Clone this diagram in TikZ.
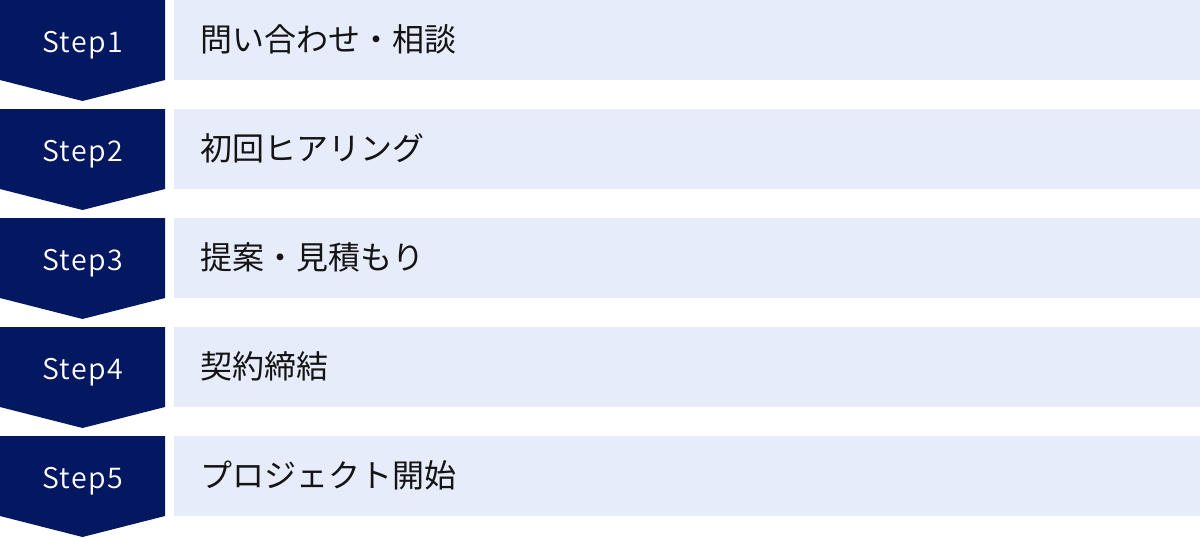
\documentclass[tikz,border=0pt]{standalone}
\usepackage{fontspec}
\setmainfont{Noto Sans CJK JP}
\newfontfamily\stepfont[LetterSpace=5]{Noto Sans CJK JP DemiLight}
\usetikzlibrary{positioning}
\definecolor{stepnavy}{HTML}{041862}
\definecolor{barblue}{HTML}{E6ECF9}
\definecolor{titleink}{HTML}{141414}
\tikzset{
  steplabel/.style={text=white,font=\stepfont\fontsize{28.5}{32}\selectfont,inner sep=0pt,anchor=base},
  bartitle/.style={text=titleink,font=\fontsize{32}{38}\selectfont,inner sep=0pt,anchor=base west},
}
\begin{document}
\begin{tikzpicture}[x=1pt,y=1pt]
    % Parameters
    \def\rowGap{109} % distance between rows
    \def\barHeight{80} % height of a row
    \def\tipDepth{21} % depth of the chevron tip
    \def\chevWidth{165} % width of the chevron

    \useasboundingbox (0,0) rectangle (1200,-538);

    % Rows
    \foreach \i/\txt in {1/問い合わせ・相談,2/初回ヒアリング,3/提案・見積もり,4/契約締結,5/プロジェクト開始}{
        \begin{scope}[yshift={-(\i-1)*\rowGap}]
            \fill[stepnavy] (0,0) -- (\chevWidth,0) -- (\chevWidth,-\barHeight) -- (\chevWidth/2,-\barHeight-\tipDepth) -- (0,-\barHeight) -- cycle;
            \fill[barblue] (174,0) rectangle (1200,-\barHeight);
            \node[steplabel] (step\i) at (82.5,-52) {Step\i};
            \node[bartitle] (title\i) at (200,-51) {\txt};
        \end{scope}
    }
\end{tikzpicture}
\end{document}
